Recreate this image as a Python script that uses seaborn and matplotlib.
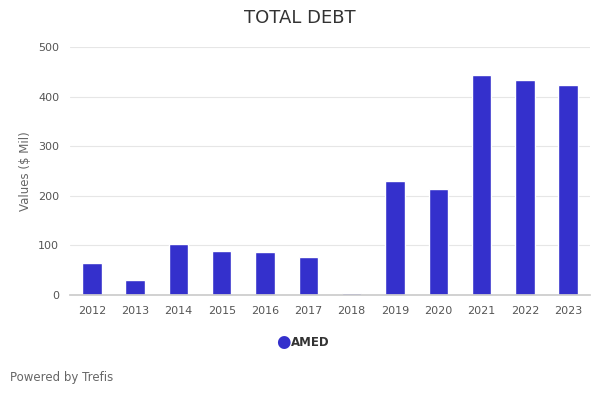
import matplotlib
matplotlib.use("Agg")
import matplotlib.pyplot as plt
import seaborn as sns
import pandas as pd

years = ["2012","2013","2014","2015","2016","2017","2018","2019","2020","2021","2022","2023"]
values = [64, 30, 103, 89, 87, 76, 4, 230, 213, 443, 433, 423]
series = "AMED"

sns.set_theme(style="white")
plt.rcParams['font.family'] = ['DejaVu Sans']
df = pd.DataFrame({"Year": years, "Value": values})

fig = plt.figure(figsize=(6, 4), dpi=100)
ax = fig.add_axes([0.117, 0.2625, 0.866, 0.62])
sns.barplot(data=df, x="Year", y="Value", color="#3430cc", width=0.45, saturation=1, ax=ax)
ax.set_ylim(0, 500)
ax.set_yticks([0, 100, 200, 300, 400, 500])
ax.yaxis.grid(True, color="#e6e6e6", linewidth=0.8)
ax.set_axisbelow(True)
for s in ["top", "right", "left"]:
    ax.spines[s].set_visible(False)
ax.spines["bottom"].set_color("#cccccc")
ax.tick_params(axis="both", labelsize=8, colors="#555555", length=0, pad=8)
ax.set_xlabel("")
ax.set_ylabel("Values ($ Mil)", fontsize=8.5, color="#666666")
fig.text(0.5, 0.955, "TOTAL DEBT", ha="center", va="center", fontsize=13, color="#333333")
fig.text(0.485, 0.145, "●", ha="right", va="center", fontsize=12, color="#3430cc")
fig.text(0.485, 0.143, series, ha="left", va="center", fontsize=8.5, fontweight="bold", color="#333333")
fig.text(0.017, 0.055, "Powered by Trefis", ha="left", va="center", fontsize=8.5, color="#666666")
fig.savefig("out.png", dpi=100)
